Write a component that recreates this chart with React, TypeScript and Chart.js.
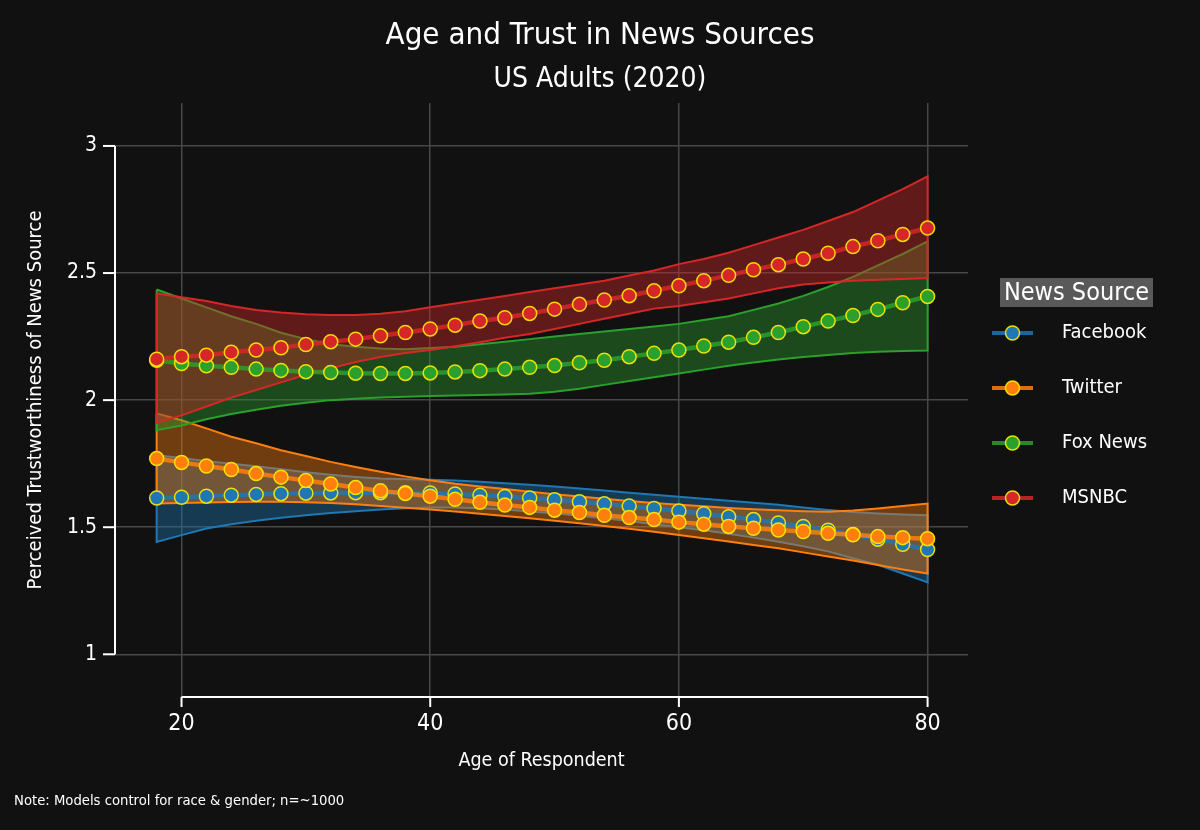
import { useEffect, useRef } from 'react';
import { Chart, registerables } from 'chart.js';

Chart.register(...registerables);

const FONT = "'Liberation Sans Narrow', 'DejaVu Sans Condensed', 'Arial Narrow', 'Noto Sans', sans-serif";

const ages = [18, 20, 22, 24, 26, 28, 30, 32, 34, 36, 38, 40, 42, 44, 46, 48, 50, 52, 54, 56, 58, 60, 62, 64, 66, 68, 70, 72, 74, 76, 78, 80];
const xTickValues = [20, 40, 60, 80];
const yTickValues = [1, 1.5, 2, 2.5, 3];

const seriesNames = ['Facebook', 'Twitter', 'Fox News', 'MSNBC'];
const seriesColors = ['#1f77b4', '#ff7f0e', '#2ca02c', '#d62728'];

const facebookMean = [1.615, 1.618, 1.622, 1.626, 1.629, 1.632, 1.634, 1.635, 1.636, 1.636, 1.636, 1.635, 1.631, 1.626, 1.621, 1.615, 1.608, 1.600, 1.592, 1.583, 1.574, 1.564, 1.553, 1.541, 1.530, 1.517, 1.503, 1.488, 1.471, 1.453, 1.433, 1.412];
const facebookUpper = [1.783, 1.772, 1.760, 1.750, 1.740, 1.728, 1.716, 1.706, 1.698, 1.692, 1.689, 1.687, 1.684, 1.679, 1.673, 1.667, 1.660, 1.652, 1.644, 1.636, 1.628, 1.620, 1.612, 1.604, 1.596, 1.588, 1.578, 1.568, 1.560, 1.554, 1.550, 1.547];
const facebookLower = [1.442, 1.469, 1.495, 1.512, 1.525, 1.537, 1.547, 1.556, 1.563, 1.570, 1.575, 1.578, 1.578, 1.575, 1.570, 1.562, 1.555, 1.545, 1.535, 1.524, 1.512, 1.500, 1.488, 1.474, 1.459, 1.443, 1.425, 1.405, 1.378, 1.352, 1.318, 1.283];

const twitterMean = [1.770, 1.755, 1.741, 1.727, 1.711, 1.697, 1.684, 1.670, 1.656, 1.643, 1.633, 1.622, 1.610, 1.598, 1.587, 1.578, 1.567, 1.558, 1.547, 1.538, 1.530, 1.520, 1.512, 1.503, 1.496, 1.489, 1.483, 1.476, 1.470, 1.463, 1.459, 1.455];
const twitterUpper = [1.948, 1.921, 1.889, 1.856, 1.830, 1.803, 1.780, 1.757, 1.737, 1.718, 1.700, 1.685, 1.671, 1.660, 1.650, 1.640, 1.630, 1.621, 1.612, 1.603, 1.595, 1.588, 1.582, 1.576, 1.571, 1.567, 1.563, 1.561, 1.566, 1.574, 1.583, 1.593];
const twitterLower = [1.593, 1.595, 1.597, 1.599, 1.600, 1.600, 1.598, 1.595, 1.590, 1.583, 1.577, 1.570, 1.562, 1.553, 1.544, 1.535, 1.525, 1.516, 1.505, 1.494, 1.482, 1.469, 1.457, 1.444, 1.430, 1.417, 1.401, 1.385, 1.369, 1.351, 1.334, 1.318];

const foxMean = [2.157, 2.144, 2.135, 2.129, 2.122, 2.117, 2.112, 2.109, 2.106, 2.105, 2.105, 2.107, 2.111, 2.116, 2.122, 2.129, 2.136, 2.147, 2.157, 2.171, 2.184, 2.197, 2.213, 2.228, 2.247, 2.266, 2.289, 2.311, 2.333, 2.357, 2.383, 2.408];
const foxUpper = [2.435, 2.400, 2.365, 2.330, 2.300, 2.265, 2.240, 2.220, 2.210, 2.203, 2.200, 2.205, 2.210, 2.220, 2.230, 2.240, 2.250, 2.260, 2.270, 2.280, 2.290, 2.300, 2.315, 2.330, 2.355, 2.380, 2.410, 2.445, 2.485, 2.530, 2.575, 2.625];
const foxLower = [1.882, 1.900, 1.925, 1.945, 1.962, 1.978, 1.990, 2.000, 2.005, 2.010, 2.013, 2.016, 2.018, 2.020, 2.022, 2.025, 2.033, 2.045, 2.060, 2.075, 2.090, 2.105, 2.120, 2.135, 2.148, 2.160, 2.170, 2.178, 2.185, 2.190, 2.193, 2.195];

const msnbcMean = [2.161, 2.171, 2.177, 2.188, 2.197, 2.206, 2.219, 2.230, 2.240, 2.253, 2.266, 2.280, 2.295, 2.311, 2.324, 2.341, 2.358, 2.377, 2.394, 2.411, 2.430, 2.450, 2.470, 2.491, 2.513, 2.533, 2.555, 2.578, 2.604, 2.627, 2.652, 2.677];
const msnbcUpper = [2.420, 2.405, 2.390, 2.370, 2.355, 2.345, 2.338, 2.335, 2.335, 2.340, 2.350, 2.365, 2.380, 2.395, 2.410, 2.425, 2.440, 2.455, 2.470, 2.490, 2.510, 2.535, 2.555, 2.580, 2.610, 2.640, 2.670, 2.705, 2.740, 2.785, 2.830, 2.880];
const msnbcLower = [1.910, 1.940, 1.975, 2.010, 2.040, 2.070, 2.100, 2.125, 2.150, 2.170, 2.185, 2.197, 2.212, 2.228, 2.245, 2.260, 2.280, 2.300, 2.320, 2.340, 2.360, 2.370, 2.385, 2.400, 2.420, 2.440, 2.455, 2.463, 2.470, 2.474, 2.477, 2.480];

const titleText = 'Age and Trust in News Sources';
const subtitleText = 'US Adults (2020)';
const xTitle = 'Age of Respondent';
const yTitle = 'Perceived Trustworthiness of News Source';
const legendTitle = 'News Source';
const noteText = 'Note: Models control for race & gender; n=~1000';

const BG = '#111111';
const MARKER_EDGE = 'rgba(255, 236, 0, 0.9)';

function rgba(hex: string, a: number): string {
  const n = parseInt(hex.slice(1), 16);
  return `rgba(${(n >> 16) & 255}, ${(n >> 8) & 255}, ${n & 255}, ${a})`;
}

const decorPlugin = {
  id: 'decor',
  beforeDraw(chart: any) {
    const { ctx, width, height } = chart;
    ctx.save();
    ctx.fillStyle = BG;
    ctx.fillRect(0, 0, width, height);
    ctx.restore();
  },
  afterDraw(chart: any) {
    const { ctx, chartArea } = chart;
    const xs = chart.scales.x;
    const ys = chart.scales.y;
    ctx.save();
    ctx.strokeStyle = '#ffffff';
    ctx.lineWidth = 2;
    // y spine (range frame)
    const sx = chartArea.left;
    ctx.beginPath();
    ctx.moveTo(sx, ys.getPixelForValue(yTickValues[0]));
    ctx.lineTo(sx, ys.getPixelForValue(yTickValues[yTickValues.length - 1]));
    ctx.stroke();
    yTickValues.forEach((v) => {
      const py = ys.getPixelForValue(v);
      ctx.beginPath();
      ctx.moveTo(sx - 12, py);
      ctx.lineTo(sx, py);
      ctx.stroke();
    });
    // x spine (offset, range frame)
    const sy = chartArea.bottom;
    ctx.beginPath();
    ctx.moveTo(xs.getPixelForValue(xTickValues[0]), sy);
    ctx.lineTo(xs.getPixelForValue(xTickValues[xTickValues.length - 1]), sy);
    ctx.stroke();
    xTickValues.forEach((v) => {
      const px = xs.getPixelForValue(v);
      ctx.beginPath();
      ctx.moveTo(px, sy);
      ctx.lineTo(px, sy + 10);
      ctx.stroke();
    });

    // legend
    const lx = chartArea.right + 32;
    ctx.fillStyle = '#595959';
    ctx.fillRect(lx, 278, 153, 29);
    ctx.fillStyle = '#ffffff';
    ctx.font = `25px ${FONT}`;
    ctx.textAlign = 'center';
    ctx.textBaseline = 'middle';
    ctx.fillText(legendTitle, lx + 76.5, 293);
    ctx.font = `20px ${FONT}`;
    ctx.textAlign = 'left';
    seriesNames.forEach((name, i) => {
      const cy = 333 + i * 55;
      const col = seriesColors[i];
      ctx.strokeStyle = rgba(col, 0.85);
      ctx.lineWidth = 4;
      ctx.beginPath();
      ctx.moveTo(lx - 8, cy);
      ctx.lineTo(lx + 33, cy);
      ctx.stroke();
      ctx.beginPath();
      ctx.arc(lx + 12.5, cy, 7, 0, Math.PI * 2);
      ctx.fillStyle = col;
      ctx.fill();
      ctx.lineWidth = 1.5;
      ctx.strokeStyle = MARKER_EDGE;
      ctx.stroke();
      ctx.fillStyle = '#ffffff';
      ctx.fillText(name, lx + 62, cy);
    });

    // note
    ctx.font = `14.7px ${FONT}`;
    ctx.textAlign = 'left';
    ctx.textBaseline = 'middle';
    ctx.fillStyle = '#ffffff';
    ctx.fillText(noteText, 14, 801);
    ctx.restore();
  },
};

export default function App() {
  const ref = useRef<HTMLCanvasElement>(null);

  useEffect(() => {
    if (!ref.current) return;
    const series = [
      { name: seriesNames[0], color: seriesColors[0], mean: facebookMean, upper: facebookUpper, lower: facebookLower },
      { name: seriesNames[1], color: seriesColors[1], mean: twitterMean, upper: twitterUpper, lower: twitterLower },
      { name: seriesNames[2], color: seriesColors[2], mean: foxMean, upper: foxUpper, lower: foxLower },
      { name: seriesNames[3], color: seriesColors[3], mean: msnbcMean, upper: msnbcUpper, lower: msnbcLower },
    ];
    const pts = (ys: number[]) => ages.map((a, k) => ({ x: a, y: ys[k] }));
    const datasets: any[] = [];
    series.forEach((s, i) => {
      const bandOrder = 100 - i * 10;
      datasets.push({
        label: s.name + ' upper',
        data: pts(s.upper),
        borderColor: 'transparent',
        borderWidth: 1,
        pointRadius: 0,
        backgroundColor: rgba(s.color, 0.4),
        fill: '+1',
        order: bandOrder + 1,
      });
      datasets.push({
        label: s.name + ' lower',
        data: pts(s.lower),
        borderColor: 'transparent',
        borderWidth: 1,
        pointRadius: 0,
        fill: false,
        order: bandOrder + 1,
      });
      const outline = [...pts(s.upper), ...pts(s.lower).reverse(), { x: ages[0], y: s.upper[0] }];
      datasets.push({
        label: s.name + ' band',
        data: outline,
        borderColor: s.color,
        borderWidth: 2,
        pointRadius: 0,
        fill: false,
        order: bandOrder,
      });
    });
    series.forEach((s, i) => {
      datasets.push({
        label: s.name,
        data: pts(s.mean),
        borderColor: rgba(s.color, 0.85),
        borderWidth: 4.5,
        pointRadius: 7,
        pointBorderWidth: 1.5,
        pointBackgroundColor: s.color,
        pointBorderColor: MARKER_EDGE,
        fill: false,
        order: 40 - i * 10,
      });
    });

    const chart = new Chart(ref.current, {
      type: 'line',
      data: { datasets },
      plugins: [decorPlugin],
      options: {
        responsive: false,
        animation: false,
        devicePixelRatio: 1,
        layout: { padding: 0 },
        plugins: {
          legend: { display: false },
          tooltip: { enabled: false },
          title: {
            display: true,
            text: titleText,
            color: '#ffffff',
            font: { family: FONT, size: 31, weight: 'normal', lineHeight: 1.2 },
            padding: { top: 17.4, bottom: 5.6 },
          },
          subtitle: {
            display: true,
            text: subtitleText,
            color: '#ffffff',
            font: { family: FONT, size: 28, weight: 'normal', lineHeight: 1.2 },
            padding: { top: 3, bottom: 6.2 },
          },
        },
        scales: {
          x: {
            type: 'linear',
            min: 14.65,
            max: 83.25,
            afterFit: (scale: any) => { scale.height = 133; },
            afterBuildTicks: (scale: any) => { scale.ticks = xTickValues.map((v) => ({ value: v })); },
            grid: { color: '#474747', lineWidth: 1.5, drawTicks: false },
            border: { display: false },
            ticks: {
              color: '#ffffff',
              font: { family: FONT, size: 23, lineHeight: 1.2 },
              padding: 13,
              maxRotation: 0,
              callback: (v: any) => String(v),
            },
            title: {
              display: true,
              text: xTitle,
              color: '#ffffff',
              font: { family: FONT, size: 19.5, lineHeight: 1.2 },
              padding: { top: 0, bottom: 57.3 },
            },
          },
          y: {
            type: 'linear',
            min: 0.832,
            max: 3.169,
            afterFit: (scale: any) => { scale.width = 115; },
            afterBuildTicks: (scale: any) => { scale.ticks = yTickValues.map((v) => ({ value: v })); },
            grid: { color: '#474747', lineWidth: 1.5, drawTicks: false },
            border: { display: false },
            ticks: {
              color: '#ffffff',
              font: { family: FONT, size: 21, lineHeight: 1.2 },
              padding: 18,
              callback: (v: any) => String(v),
            },
            title: {
              display: true,
              text: yTitle,
              color: '#ffffff',
              font: { family: FONT, size: 20, lineHeight: 1.2 },
              padding: { top: 24, bottom: 0 },
            },
          },
          legendSpace: {
            type: 'linear',
            position: 'right',
            display: true,
            afterFit: (scale: any) => { scale.width = 232; },
            grid: { display: false, drawOnChartArea: false },
            border: { display: false },
            ticks: { display: false },
          },
        },
      } as any,
    });
    return () => chart.destroy();
  }, []);

  return (
    <div style={{ position: 'fixed', left: 0, top: 0, width: 1200, height: 830, background: BG }}>
      <canvas ref={ref} width={1200} height={830} style={{ display: 'block', width: 1200, height: 830 }} />
    </div>
  );
}
